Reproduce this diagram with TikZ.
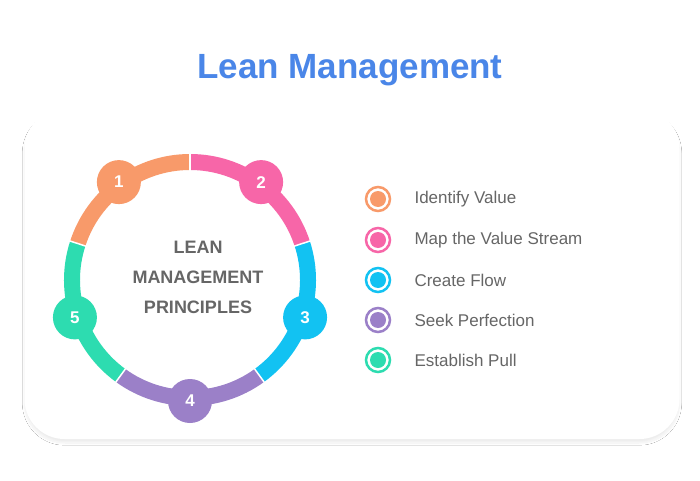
\documentclass[tikz,border=0pt]{standalone}
\usepackage{fontspec}
\setmainfont{Liberation Sans}
\usetikzlibrary{shadows.blur}
\definecolor{c1}{HTML}{F89A6A}
\definecolor{c2}{HTML}{F766A8}
\definecolor{c3}{HTML}{12C2F2}
\definecolor{c4}{HTML}{9B80C8}
\definecolor{c5}{HTML}{2DDCB0}
\definecolor{tgray}{HTML}{666666}
\definecolor{tblue}{HTML}{4A86E8}
\begin{document}
\begin{tikzpicture}[x=1pt,y=1pt,
  num/.style={circle,minimum size=44pt,inner sep=0pt,text=white,font=\bfseries\fontsize{17}{17}\selectfont},
  legtxt/.style={anchor=west,text=tgray,font=\fontsize{17}{17}\selectfont},
  seg/.style={line width=16pt}]
\useasboundingbox (0,0) rectangle (700,480);
\fill[white] (0,0) rectangle (700,480);
\node[draw=none,fill=white,rounded corners=40pt,minimum width=655pt,minimum height=330pt,blur shadow={shadow blur steps=12,shadow blur extra rounding=10pt,shadow xshift=0pt,shadow yshift=-4pt,shadow opacity=7}] (panel) at (352,206) {};
\node[text=tblue,font=\bfseries\fontsize{35}{35}\selectfont] (title) at (350,410) {Lean Management};
\coordinate (c) at (190,200);
\foreach \a/\col in {90/c1,18/c2,-54/c3,-126/c4,-198/c5}{
  \draw[seg,\col] ([shift={(\a:118)}]c) arc[start angle=\a, end angle=\a+72, radius=118];
}
\foreach \a in {90,18,-54,-126,162}{\draw[white,line width=1.5pt] ([shift={(\a:109)}]c) -- ([shift={(\a:127)}]c);}
\node[num,fill=c1] (n1) at ([shift={(126:121)}]c) {1};
\node[num,fill=c2] (n2) at ([shift={(54:121)}]c) {2};
\node[num,fill=c3] (n3) at ([shift={(-18:121)}]c) {3};
\node[num,fill=c4] (n4) at ([shift={(-90:121)}]c) {4};
\node[num,fill=c5] (n5) at ([shift={(-162:121)}]c) {5};
\node[text=tgray,align=center,font=\bfseries\fontsize{18}{30}\selectfont] (center) at (198,203) {LEAN\\MANAGEMENT\\PRINCIPLES};
\foreach \i/\y/\col/\t in {1/199/c1/Identify Value,2/240/c2/Map the Value Stream,3/280/c3/Create Flow,4/320/c4/Seek Perfection,5/360/c5/Establish Pull}{
  \node[circle,draw=\col,line width=2.5pt,minimum size=24pt,inner sep=0pt] (o\i) at (378,480-\y) {};
  \fill[\col] (o\i.center) circle (8);
  \node[legtxt] (t\i) at (411,480-\y) {\t};
}
\end{tikzpicture}
\end{document}
